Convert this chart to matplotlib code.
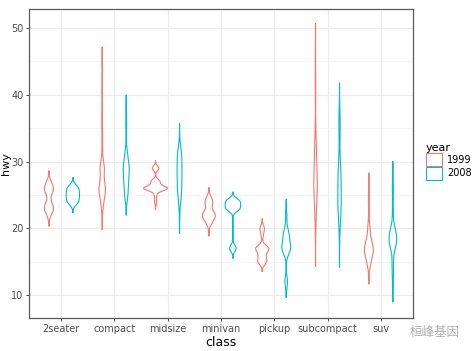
import numpy as np
import matplotlib
matplotlib.use("Agg")
import matplotlib.pyplot as plt
from matplotlib.patches import Patch

# ------------------------------------------------------------
# hwy values per class and model year (read off as mpg-style data)
# ------------------------------------------------------------
CLASSES = ["2seater", "compact", "midsize", "minivan", "pickup", "subcompact", "suv"]
YEARS = ["1999", "2008"]

hwy_2seater_1999 = [26, 23]
hwy_2seater_2008 = [26, 25, 24]

hwy_compact_1999 = [29, 29, 26, 26, 26, 25, 25, 25, 29, 27, 27, 29, 26, 26,
                    30, 33, 35, 29, 26, 24, 44, 29, 26, 23, 24]
hwy_compact_2008 = [31, 30, 27, 28, 27, 25, 25, 27, 25, 25, 27, 31, 31, 27,
                    37, 35, 29, 29, 29, 29, 29, 29]

hwy_midsize_1999 = [24, 27, 26, 26, 27, 26, 26, 26, 25, 26, 26, 27, 29, 27,
                    26, 26, 29, 29, 26, 26]
hwy_midsize_2008 = [25, 23, 30, 29, 26, 30, 31, 28, 31, 32, 27, 26, 25, 28,
                    25, 31, 31, 28, 28, 29, 26]

hwy_minivan_1999 = [24, 24, 22, 22, 22, 21]
hwy_minivan_2008 = [24, 24, 17, 23, 23]

hwy_pickup_1999 = [17, 17, 17, 15, 16, 15, 15, 17, 17, 16, 16, 15, 20, 20, 17, 19]
hwy_pickup_2008 = [19, 18, 19, 19, 12, 16, 12, 17, 17, 17, 17, 17, 22, 18, 20]

hwy_subcompact_1999 = [26, 25, 21, 22, 33, 32, 32, 29, 32, 26, 29, 26, 26, 26,
                       26, 44, 41, 29, 26]
hwy_subcompact_2008 = [26, 24, 23, 22, 20, 34, 36, 36, 29, 28, 27, 24, 24, 24,
                       28, 29]

hwy_suv_1999 = [17, 15, 17, 17, 16, 15, 17, 17, 17, 19, 17, 17, 20, 17, 15, 15,
                17, 16, 17, 17, 17, 17, 25, 24, 20, 20, 19, 17, 15]
hwy_suv_2008 = [20, 15, 20, 17, 19, 14, 17, 12, 17, 18, 18, 19, 19, 22, 19, 12,
                19, 18, 14, 18, 18, 18, 19, 19, 20, 18, 27, 25, 26, 23, 20, 17, 18]

HWY = {
    ("2seater", "1999"): hwy_2seater_1999, ("2seater", "2008"): hwy_2seater_2008,
    ("compact", "1999"): hwy_compact_1999, ("compact", "2008"): hwy_compact_2008,
    ("midsize", "1999"): hwy_midsize_1999, ("midsize", "2008"): hwy_midsize_2008,
    ("minivan", "1999"): hwy_minivan_1999, ("minivan", "2008"): hwy_minivan_2008,
    ("pickup", "1999"): hwy_pickup_1999, ("pickup", "2008"): hwy_pickup_2008,
    ("subcompact", "1999"): hwy_subcompact_1999, ("subcompact", "2008"): hwy_subcompact_2008,
    ("suv", "1999"): hwy_suv_1999, ("suv", "2008"): hwy_suv_2008,
}

COLORS = {"1999": "#F8766D", "2008": "#00BFC4"}


def bw_nrd0(x):
    # R's default bandwidth (Silverman rule of thumb)
    x = np.asarray(x, float)
    hi = x.std(ddof=1)
    q75, q25 = np.percentile(x, [75, 25])
    lo = min(hi, (q75 - q25) / 1.34)
    if lo == 0:
        lo = hi or abs(x[0]) or 1.0
    return 0.9 * lo * len(x) ** -0.2


def density(x, n=512, cut=3):
    x = np.asarray(x, float)
    bw = bw_nrd0(x)
    y = np.linspace(x.min() - cut * bw, x.max() + cut * bw, n)
    z = (y[:, None] - x[None, :]) / bw
    d = np.exp(-0.5 * z ** 2).sum(axis=1) / (len(x) * bw * np.sqrt(2 * np.pi))
    return y, d


# ------------------------------------------------------------
# figure
# ------------------------------------------------------------
plt.rcParams["font.family"] = ["DejaVu Sans"]
fig = plt.figure(figsize=(4.74, 3.51), dpi=100)
ax = fig.add_axes([0.061, 0.094, 0.81, 0.88])

dens = {k: density(v) for k, v in HWY.items()}
dmax = max(d.max() for _, d in dens.values())

dodge = 0.225
half_w = 0.225
for i, cls in enumerate(CLASSES):
    for j, yr in enumerate(YEARS):
        y, d = dens[(cls, yr)]
        xc = i + 1 + (-dodge if j == 0 else dodge)
        w = d / dmax * half_w
        xs = np.concatenate([xc - w, (xc + w)[::-1], [xc - w[0]]])
        ys = np.concatenate([y, y[::-1], [y[0]]])
        ax.plot(xs, ys, color=COLORS[yr], lw=0.8, zorder=3)

ax.set_xlim(0.4, 7.6)
ax.set_ylim(6.55, 52.85)
ax.set_xticks(range(1, 8))
ax.set_xticklabels(CLASSES)
ax.set_yticks([10, 20, 30, 40, 50])
ax.set_yticks([15, 25, 35, 45], minor=True)

ax.grid(True, which="major", color="#EBEBEB", lw=0.8, zorder=0)
ax.grid(True, which="minor", axis="y", color="#F2F2F2", lw=0.5, zorder=0)
for s in ax.spines.values():
    s.set_color("#5A5A5A")
    s.set_linewidth(0.9)
ax.tick_params(axis="both", which="major", length=2.5, width=0.6, color="#333333",
               labelsize=7, labelcolor="#4D4D4D", pad=2)
ax.tick_params(axis="y", which="major", pad=1.5)
ax.tick_params(axis="both", which="minor", length=0)

ax.set_xlabel("class", fontsize=9, labelpad=1)
ax.set_ylabel("hwy", fontsize=8, va="center")
ax.yaxis.set_label_coords(-0.059, 0.5)

handles = [Patch(facecolor="white", edgecolor=COLORS[yr], lw=0.8, label=yr) for yr in YEARS]
leg = fig.legend(handles=handles, title="year", loc="upper left",
                 bbox_to_anchor=(0.89, 0.605), frameon=False, fontsize=7,
                 title_fontsize=8, handlelength=1.7, handleheight=1.7,
                 labelspacing=0.05, handletextpad=0.5, borderaxespad=0)
leg._legend_box.align = "left"

fig.text(0.97, 0.053, "桓峰基因", ha="right", va="center", fontsize=9,
         color="#B0B0B0", family=["Noto Sans CJK SC", "DejaVu Sans"])

fig.savefig("out.png", dpi=100)
